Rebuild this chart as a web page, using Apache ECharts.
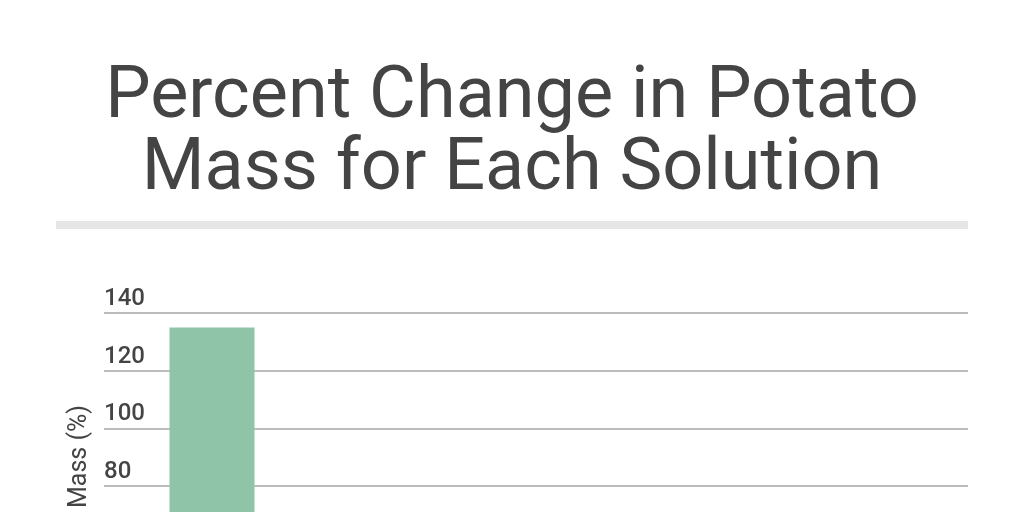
<!DOCTYPE html>
<html>
<head>
<meta charset="utf-8">
<title>Percent Change in Potato Mass</title>
<script src="https://cdn.jsdelivr.net/npm/echarts@6/dist/echarts.min.js"></script>
<style>
    html, body {margin: 0; padding: 0; background: #fff; overflow: hidden; height: 512px;}
    /* the chart runs on below the window, like the cropped picture */
    #chart {width: 1024px; height: 780px;}
</style>
</head>
<body>
<div id="chart"></div>
<script>
// only the first bar shows in the picture, the rest sit under the bottom edge
var solutions = ['0.0 M', '0.2 M', '0.4 M', '0.6 M'];
var massChange = [135, 62, 45, 30];
var yTicks = [0, 20, 40, 60, 80, 100, 120, 140];

var mychart = echarts.init(document.getElementById('chart'));

var option = {
    backgroundColor: '#fff',
    animation: false,
    title: {
        text: 'Percent Change in Potato\nMass for Each Solution',
        left: 'center',
        top: 63,
        padding: 0,
        textStyle: {
            fontFamily: 'Roboto',
            fontSize: 72,
            fontWeight: 'normal',
            lineHeight: 72,
            color: '#444'
        }
    },
    graphic: [{
        type: 'rect',
        shape: {x: 56, y: 221, width: 912, height: 8},
        style: {fill: '#e6e6e6'}
    }],
    grid: {
        left: 104,
        right: 56,
        top: 313,
        bottom: 63
    },
    xAxis: {
        type: 'category',
        data: solutions,
        axisLine: {show: false},
        axisTick: {show: false},
        axisLabel: {fontFamily: 'Roboto', fontSize: 20, color: '#444'}
    },
    yAxis: {
        type: 'value',
        min: yTicks[0],
        max: yTicks[yTicks.length - 1],
        interval: 20,
        name: 'Change in Mass (%)',
        nameLocation: 'middle',
        nameGap: 12,
        nameTextStyle: {fontFamily: 'Roboto', fontSize: 25, color: '#444'},
        axisLine: {show: false},
        axisTick: {show: false},
        axisLabel: {
            inside: true,
            margin: 0,
            verticalAlign: 'bottom',
            padding: [0, 0, 2, 0],
            fontFamily: 'Roboto',
            fontSize: 24,
            fontWeight: 500,
            color: '#444'
        },
        splitLine: {lineStyle: {color: '#a6a6a6', width: 1.5}}
    },
    series: [{
        type: 'bar',
        data: massChange,
        barWidth: 85,
        itemStyle: {color: '#8fc4a8'}
    }]
};

mychart.setOption(option);
</script>
</body>
</html>
